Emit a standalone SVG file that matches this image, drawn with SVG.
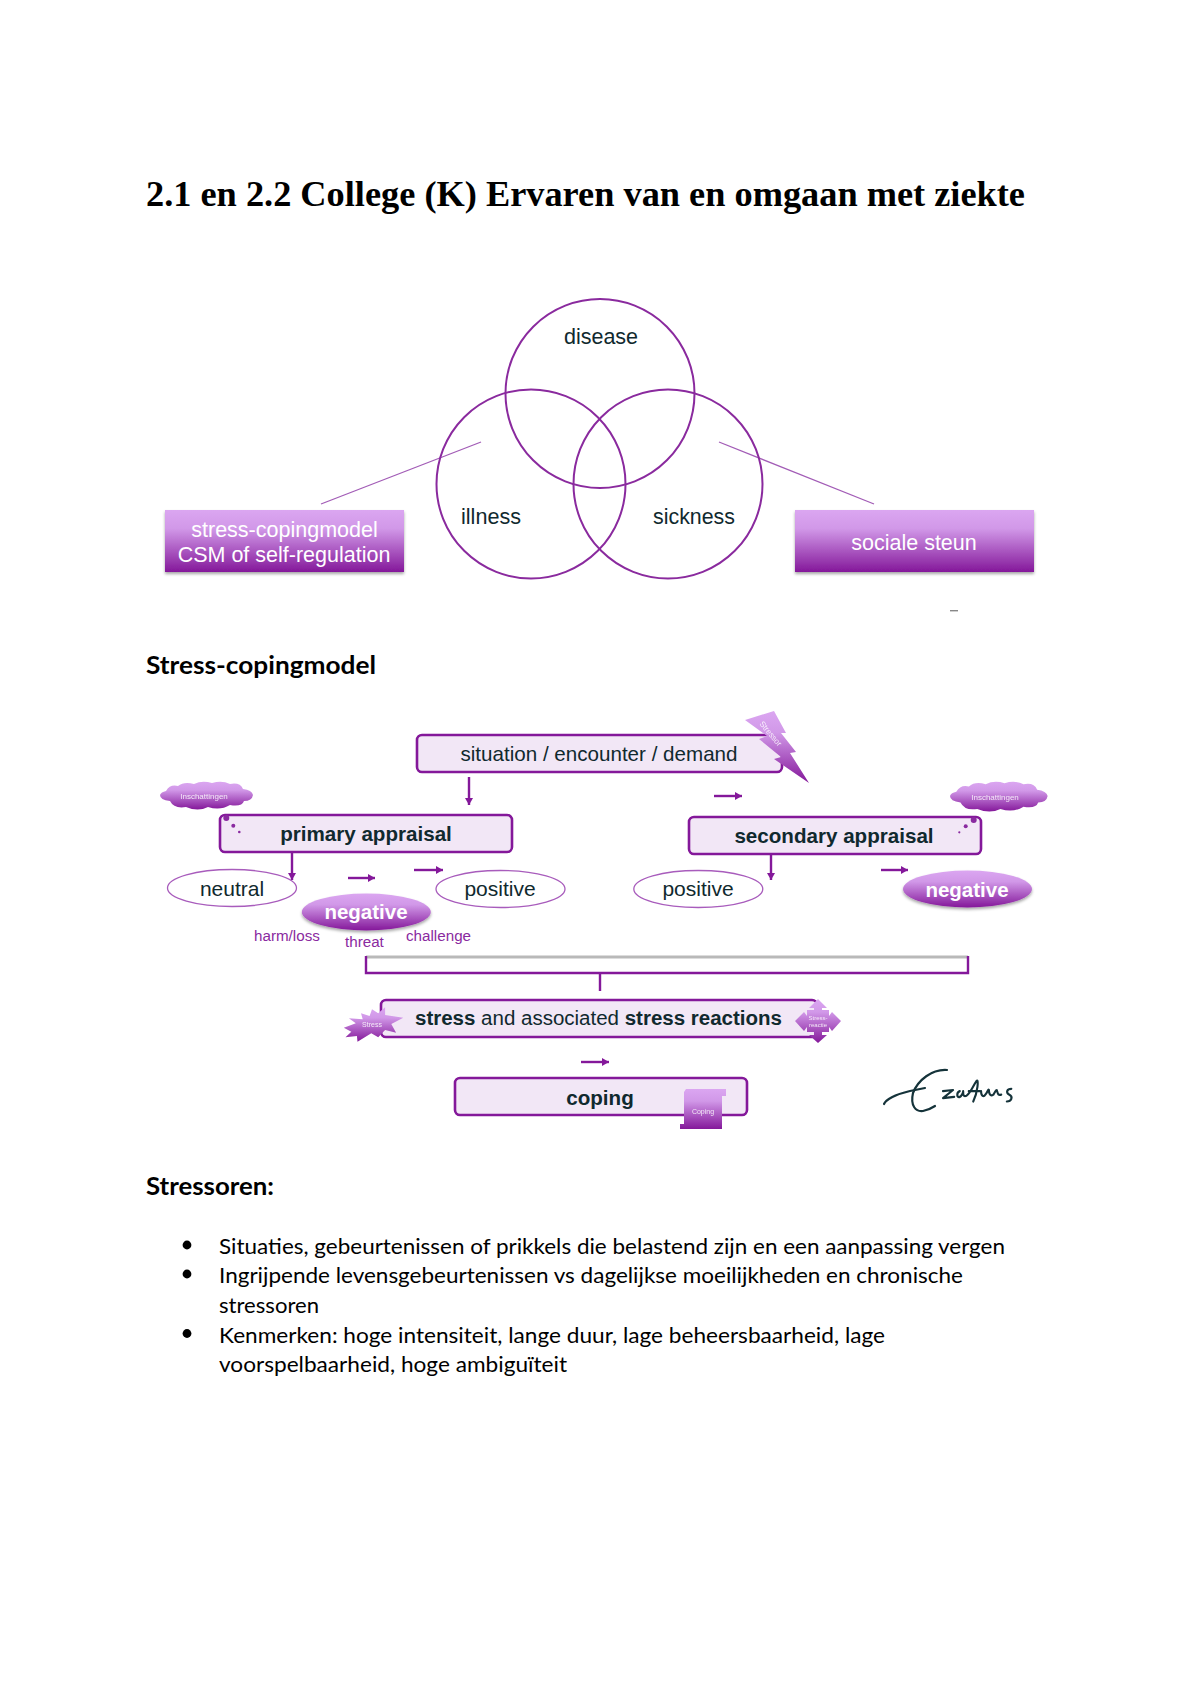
<svg xmlns="http://www.w3.org/2000/svg" xmlns:xlink="http://www.w3.org/1999/xlink" width="1200" height="1698" viewBox="0 0 1200 1698">
<style>
text{font-family:"Liberation Sans",Arial,sans-serif;fill:#10292e}
.title{font-family:"Liberation Serif","Times New Roman",serif;font-weight:700;font-size:35px;fill:#000}
.head{font-family:Lato,"Liberation Sans",sans-serif;font-weight:700;font-size:24px;fill:#000}
.body{font-family:Lato,"Liberation Sans",sans-serif;font-size:22px;fill:#000}
.m{text-anchor:middle}
.venn{fill:none;stroke:#8a2a9e;stroke-width:2}
.lab{font-size:21.5px}
.box{fill:#f2e7f6;stroke:#84189a;stroke-width:2.6}
.b{font-weight:700}
.oval{fill:#fff;stroke:#a85cbc;stroke-width:1.3}
.pur{fill:url(#g);filter:url(#s)}
.grad{fill:url(#g)}
.sub{font-size:15.2px;fill:#8a2aa0}
.tiny{fill:#fff;font-size:8px;opacity:.85}
.wt{fill:#fff}
.conn{fill:none;stroke:#84189a;stroke-width:2.4}
.arr{marker-end:url(#a)}
.faint{fill:none;stroke:#a25cb6;stroke-width:1.3}
.dot{fill:#8a2aa0}
.sig{fill:none;stroke:#15333a;stroke-width:2.2;stroke-linecap:round;stroke-linejoin:round}
</style>
<defs>
<linearGradient id="g" x1="0" y1="0" x2="0" y2="1"><stop offset="0" stop-color="#dba6f1"/><stop offset=".3" stop-color="#d198e8"/><stop offset="1" stop-color="#84189a"/></linearGradient>
<filter id="s" x="-10%" y="-15%" width="120%" height="140%"><feDropShadow dx="0" dy="2" stdDeviation="1.4" flood-color="#000" flood-opacity=".35"/></filter>
<marker id="a" markerUnits="userSpaceOnUse" markerWidth="9" markerHeight="10" refX="7" refY="4" orient="auto"><path d="M0 0L7 4L0 8Z" fill="#84189a"/></marker>
<path id="cloud" class="grad" d="M6 11Q10 4 18 6Q24 1 34 4Q42 0 52 3Q62 0 70 4Q80 2 83 9Q92 10 93 15Q92 21 84 21Q82 27 70 25Q60 31 48 27Q38 32 26 27Q14 29 10 21Q0 20 0 15Q1 12 6 11Z"/>
</defs>
<rect width="1200" height="1698" fill="#fff"/>

<text class="title" x="146" y="206" textLength="879" lengthAdjust="spacingAndGlyphs">2.1 en 2.2 College (K) Ervaren van en omgaan met ziekte</text>

<g id="venn-connectors">
<line class="faint" x1="481" y1="442" x2="321" y2="504"/>
<line class="faint" x1="719" y1="442" x2="874" y2="504"/>
</g>
<g id="disease"><circle class="venn" cx="600" cy="393.500" r="94.500"/><text class="lab m" x="601" y="344">disease</text></g>
<g id="illness"><circle class="venn" cx="531" cy="484" r="94.500"/><text class="lab" x="461" y="524" textLength="60" lengthAdjust="spacingAndGlyphs">illness</text></g>
<g id="sickness"><circle class="venn" cx="668" cy="484" r="94.500"/><text class="lab" x="653" y="524" textLength="82" lengthAdjust="spacingAndGlyphs">sickness</text></g>
<g id="stress-copingmodel-box"><rect class="pur" x="165" y="510" width="239" height="62"/>
<text class="m wt" style="fill:#fff" x="284.500" y="537" font-size="21.5">stress-copingmodel</text>
<text class="m wt" style="fill:#fff" x="284" y="562" font-size="21.5">CSM of self-regulation</text></g>
<g id="sociale-steun-box"><rect class="pur" x="795" y="510" width="239" height="62"/>
<text class="m wt" style="fill:#fff" x="914" y="550" font-size="21.5">sociale steun</text></g>
<rect x="950" y="610" width="8" height="1.400" fill="#888"/>

<text class="head" x="146" y="673.500" textLength="230" lengthAdjust="spacingAndGlyphs">Stress-copingmodel</text>

<g id="connectors">
<line class="conn arr" x1="469" y1="777" x2="469" y2="805"/>
<line class="conn arr" x1="292" y1="852" x2="292" y2="880"/>
<line class="conn arr" x1="348" y1="878" x2="375" y2="878"/>
<line class="conn arr" x1="414" y1="870" x2="443" y2="870"/>
<line class="conn arr" x1="714" y1="796" x2="742" y2="796"/>
<line class="conn arr" x1="771" y1="853" x2="771" y2="880"/>
<line class="conn arr" x1="881" y1="870" x2="908" y2="870"/>
<line class="conn arr" x1="581" y1="1062" x2="609" y2="1062"/>
<line x1="366" y1="957" x2="968" y2="957" stroke="#b9b9b9" stroke-width="3"/>
<path class="conn" stroke-width="3" d="M366 956V973H968V956M600 973V991"/>
</g>

<g id="situation"><rect class="box" x="417" y="735" width="365" height="37" rx="5"/>
<text class="m" x="599" y="761" font-size="20.6">situation / encounter / demand</text></g>
<g id="stressor"><polygon class="grad" points="745,720 774,711 786,733 781,733 796,752 790,753 809,783 774,759 781,757 759,739 767,736"/>
<text class="tiny" transform="translate(759,724) rotate(50)">Stressor</text></g>

<g id="primary-appraisal"><rect class="box" x="220" y="815" width="292" height="37" rx="5"/>
<text class="m b" x="366" y="841" font-size="20.6">primary appraisal</text>
<circle class="dot" cx="226.300" cy="818" r="3"/><circle class="dot" cx="233.300" cy="825.700" r="2"/><circle class="dot" cx="239.300" cy="832" r="1.300"/></g>
<g id="inschattingen-left"><use xlink:href="#cloud" x="160" y="780"/><text class="tiny m" x="204" y="799">Inschattingen</text></g>
<g id="neutral"><ellipse class="oval" cx="232" cy="888" rx="64.500" ry="18.500"/><text class="m" x="232" y="896" font-size="21">neutral</text></g>
<g id="positive-left"><ellipse class="oval" cx="500.500" cy="889" rx="64.500" ry="18.500"/><text class="m" x="500" y="896" font-size="21">positive</text></g>
<g id="negative-left"><ellipse class="pur" cx="366.300" cy="912" rx="64.500" ry="18.500"/><text class="m b wt" style="fill:#fff" x="366" y="919" font-size="20.5">negative</text></g>
<text class="sub" x="254" y="941">harm/loss</text>
<text class="sub" x="345" y="947">threat</text>
<text class="sub" x="406" y="941">challenge</text>

<g id="secondary-appraisal"><rect class="box" x="689" y="817" width="292" height="37" rx="5"/>
<text class="m b" x="834" y="842.500" font-size="20.6">secondary appraisal</text>
<circle class="dot" cx="973.700" cy="820" r="3"/><circle class="dot" cx="965.700" cy="826.300" r="2"/><circle class="dot" cx="959.300" cy="832.300" r="1.100"/></g>
<g id="inschattingen-right"><use xlink:href="#cloud" transform="translate(950,780) scale(1.05,1.07)"/><text class="tiny m" x="995" y="800">Inschattingen</text></g>
<g id="positive-right"><ellipse class="oval" cx="698.300" cy="889" rx="64.500" ry="18.500"/><text class="m" x="698" y="896" font-size="21">positive</text></g>
<g id="negative-right"><ellipse class="pur" cx="967.500" cy="889" rx="64.500" ry="18.500"/><text class="m b wt" style="fill:#fff" x="967" y="896.500" font-size="20.5">negative</text></g>

<g id="stress-reactions"><rect class="box" x="381" y="1000" width="436" height="37" rx="5"/>
<text x="415" y="1025" font-size="20" textLength="367" lengthAdjust="spacingAndGlyphs"><tspan class="b">stress</tspan> and associated <tspan class="b">stress reactions</tspan></text></g>
<g id="stress-burst"><polygon class="grad" points="343.800,1027.700 355.800,1023.300 348.900,1018.300 362.700,1019.300 361,1013.300 369.600,1016 372,1009.300 378.200,1013.300 385.100,1007.300 385.100,1015 403.300,1017.700 391.300,1024 396.100,1032.700 385.100,1030 378.200,1037.300 371.300,1033.300 357.500,1041.700 356.900,1036 345.500,1037.300 351.300,1031.700"/>
<text class="tiny m" x="372" y="1027" style="font-size:7px">Stress</text></g>
<g id="stress-reactie"><polygon class="grad" points="818,999 827,1008 822,1008 822,1010 829,1010 829,1016 832,1012 841,1021 832,1031 829,1027 829,1032 822,1032 822,1035 827,1035 818,1043 809,1035 814,1035 814,1032 807,1032 807,1027 804,1031 795,1021 804,1012 807,1016 807,1010 814,1010 814,1008 809,1008"/>
<text class="tiny m" style="font-size:6px" x="818" y="1020">Stress-</text><text class="tiny m" style="font-size:6px" x="818" y="1027">reactie</text></g>

<g id="coping"><rect class="box" x="455" y="1078" width="292" height="37" rx="5"/>
<text class="m b" x="600" y="1105" font-size="20.6">coping</text></g>
<g id="coping-scroll"><path class="grad" d="M686 1089H726V1096H722V1129H680V1124H684V1092Z"/><text class="tiny m" x="703" y="1114" style="font-size:7px">Coping</text></g>

<g id="logo" class="sig">
<path d="M884 1104C886 1099 897 1094 910 1091L925 1088"/>
<path d="M947 1070C932 1069 918 1080 913 1093C910 1106 916 1112 923 1111C928 1110 932 1108 935 1106"/>
<path transform="translate(943,1090) scale(1.12,1.15) translate(-943,-1090)" stroke-width="1.900" d="M943 1091L952 1090L943 1097L953 1096M958 1091C955 1092 955 1097 958 1096C960 1095 961 1092 961 1091C961 1094 961 1096 964 1095C968 1092 970 1086 973 1082C975 1080 974 1092 970 1100M966 1091H976M977 1091C977 1094 978 1096 980 1095C983 1092 983 1089 984 1090C984 1093 985 1096 988 1094C990 1091 990 1090 991 1090C992 1093 992 1095 995 1094M1004 1089C1000 1089 999 1092 1002 1094C1006 1096 1004 1100 1000 1100"/>
</g>

<text class="head" x="146" y="1194.500" textLength="128" lengthAdjust="spacingAndGlyphs">Stressoren:</text>
<g id="list">
<circle cx="187" cy="1245" r="4.400"/><circle cx="187" cy="1274" r="4.400"/><circle cx="187" cy="1333.500" r="4.400"/>
<text class="body" x="219" y="1253.500" textLength="786" lengthAdjust="spacingAndGlyphs">Situaties, gebeurtenissen of prikkels die belastend zijn en een aanpassing vergen</text>
<text class="body" x="219" y="1282.500" textLength="744" lengthAdjust="spacingAndGlyphs">Ingrijpende levensgebeurtenissen vs dagelijkse moeilijkheden en chronische</text>
<text class="body" x="219" y="1312.500" textLength="100" lengthAdjust="spacingAndGlyphs">stressoren</text>
<text class="body" x="219" y="1342.500" textLength="666" lengthAdjust="spacingAndGlyphs">Kenmerken: hoge intensiteit, lange duur, lage beheersbaarheid, lage</text>
<text class="body" x="219" y="1371.500" textLength="348" lengthAdjust="spacingAndGlyphs">voorspelbaarheid, hoge ambiguïteit</text>
</g>
</svg>
